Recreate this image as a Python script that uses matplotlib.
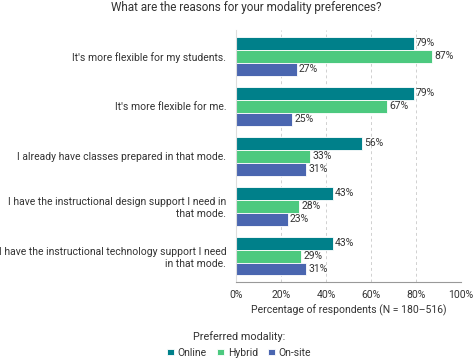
import matplotlib
matplotlib.use("Agg")
import matplotlib.pyplot as plt
import numpy as np

reasons = [
    "It's more flexible for my students.",
    "It's more flexible for me.",
    "I already have classes prepared in that mode.",
    "I have the instructional design support I need in\nthat mode.",
    "I have the instructional technology support I need\nin that mode.",
]
online = [79, 79, 56, 43, 43]
hybrid = [87, 67, 33, 28, 29]
onsite = [27, 25, 31, 23, 31]
series = [("Online", online, "#00808a"), ("Hybrid", hybrid, "#4cc97f"), ("On-site", onsite, "#4a66b0")]
xticks = [0, 20, 40, 60, 80, 100]

plt.rcParams["font.family"] = ["Roboto", "DejaVu Sans"]
txt = "#333333"

fig = plt.figure(figsize=(4.74, 3.59), dpi=100)
ax = fig.add_axes([0.498, 0.2145, 0.4746, 0.7015])

y = np.arange(len(reasons))
h = 0.26
for k, (name, vals, col) in enumerate(series):
    pos = y + (k - 1) * h
    ax.barh(pos, vals, height=h, color=col, edgecolor="white", linewidth=0.6, label=name, zorder=2)
    for p, v in zip(pos, vals):
        ax.text(v + 1, p, f"{v}%", va="center", ha="left", fontsize=7.5, color=txt)

ax.set_xlim(0, 100)
ax.set_ylim(4.52, -0.52)
ax.set_yticks(y)
ax.set_yticklabels(reasons, fontsize=7.5, color=txt)
ax.set_xticks(xticks)
ax.set_xticklabels([f"{t}%" for t in xticks], fontsize=7.5, color=txt)
ax.tick_params(length=0, pad=6)
ax.tick_params(axis="y", pad=7)
ax.xaxis.grid(True, ls=(0, (3, 3)), color="#d0d0d0", lw=0.7, zorder=0)
for s in ["top", "right"]:
    ax.spines[s].set_visible(False)
ax.spines["left"].set_color("#dddddd")
ax.spines["bottom"].set_color("#999999")
ax.set_xlabel("Percentage of respondents (N = 180\u2013516)", fontsize=7.5, color=txt, labelpad=3)

fig.text(0.52, 0.98, "What are the reasons for your modality preferences?", ha="center", va="center",
         fontsize=8.5, color=txt)

leg = fig.legend(loc="lower center", bbox_to_anchor=(0.505, -0.022), ncol=3, frameon=False,
                 title="Preferred modality:", fontsize=7.5, title_fontsize=7.8,
                 handlelength=0.6, handleheight=0.6, handletextpad=0.4, columnspacing=1.0)
for t in leg.get_texts():
    t.set_color(txt)
leg.get_title().set_color(txt)

fig.savefig("out.png", dpi=100)
